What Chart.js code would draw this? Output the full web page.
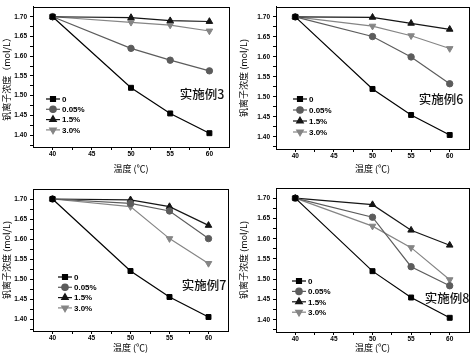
<!DOCTYPE html>
<html>
<head>
<meta charset="utf-8">
<script src="https://cdn.jsdelivr.net/npm/chart.js@4/dist/chart.umd.min.js"></script>
<style>
  body { margin: 0; background: #fff; }
  #wrap { position: relative; width: 474px; height: 358px; }
  canvas { position: absolute; }
</style>
</head>
<body>
<div id="wrap">
  <canvas id="c3" width="237" height="179" style="left:0;top:0"></canvas>
  <canvas id="c6" width="237" height="179" style="left:237px;top:0"></canvas>
  <canvas id="c7" width="237" height="179" style="left:0;top:179px"></canvas>
  <canvas id="c8" width="237" height="179" style="left:237px;top:179px"></canvas>
</div>
<script>
// 温度 (℃)
const temps = [40, 50, 55, 60];
const seriesNames = ['0', '0.05%', '1.5%', '3.0%'];

// 刻度
const xMajor = [40, 45, 50, 55, 60];
const xMinor = [42.5, 47.5, 52.5, 57.5];
const yMajor = [1.40, 1.45, 1.50, 1.55, 1.60, 1.65, 1.70];
const yMinor = [1.375, 1.425, 1.475, 1.525, 1.575, 1.625, 1.675];

// 实施例3
const e3_0   = [1.70, 1.520, 1.455, 1.405];
const e3_005 = [1.70, 1.620, 1.590, 1.563];
const e3_15  = [1.70, 1.698, 1.690, 1.688];
const e3_30  = [1.70, 1.686, 1.679, 1.664];

// 实施例6
const e6_0   = [1.70, 1.520, 1.455, 1.405];
const e6_005 = [1.70, 1.651, 1.600, 1.533];
const e6_15  = [1.70, 1.699, 1.684, 1.669];
const e6_30  = [1.70, 1.677, 1.653, 1.621];

// 实施例7
const e7_0   = [1.70, 1.520, 1.455, 1.405];
const e7_005 = [1.70, 1.689, 1.670, 1.601];
const e7_15  = [1.70, 1.698, 1.681, 1.634];
const e7_30  = [1.70, 1.681, 1.601, 1.539];

// 实施例8
const e8_0   = [1.70, 1.520, 1.455, 1.405];
const e8_005 = [1.70, 1.653, 1.531, 1.484];
const e8_15  = [1.70, 1.684, 1.621, 1.584];
const e8_30  = [1.70, 1.631, 1.578, 1.499];

const styles = [
  { color: '#000000', point: 'rect', rot: 0, r: 3.5 },
  { color: '#5c5c5c', point: 'circle', rot: 0, r: 3.2 },
  { color: '#151515', point: 'triangle', rot: 0, r: 3.8 },
  { color: '#858585', point: 'triangle', rot: 180, r: 3.8 }
];

const panels = [
  { id: 'c3', note: '实施例3', yTitle: '钒离子浓度（mol/L）', series: [e3_0, e3_005, e3_15, e3_30],
    area: { l: 33, r: 229, t: 3, b: 147 }, legend: { x: 53, y: 99, dy: 10.3 }, notePos: { x: 202, y: 94 } },
  { id: 'c6', note: '实施例6', yTitle: '钒离子浓度 (mol/L)', series: [e6_0, e6_005, e6_15, e6_30],
    area: { l: 39, r: 233, t: 3, b: 149 }, legend: { x: 63, y: 99, dy: 11 }, notePos: { x: 204, y: 99 } },
  { id: 'c7', note: '实施例7', yTitle: '钒离子浓度 (mol/L)', series: [e7_0, e7_005, e7_15, e7_30],
    area: { l: 33, r: 228, t: 10, b: 152 }, legend: { x: 65, y: 98, dy: 10.3 }, notePos: { x: 204, y: 106 } },
  { id: 'c8', note: '实施例8', yTitle: '钒离子浓度 (mol/L)', series: [e8_0, e8_005, e8_15, e8_30],
    area: { l: 39, r: 233, t: 9, b: 153 }, legend: { x: 62, y: 102, dy: 10.4 }, notePos: { x: 210, y: 119 } }
];

const tickFont = { family: 'Liberation Sans', size: 6.5, weight: 'bold' };
const cjk = 'Noto Sans CJK SC';

// 边框、图例和标注
const extras = {
  id: 'extras',
  afterDraw(chart, args, opts) {
    const ctx = chart.ctx;
    const a = chart.chartArea;
    ctx.save();
    ctx.strokeStyle = '#000';
    ctx.lineWidth = 1;
    ctx.strokeRect(Math.round(a.left) + 0.5, Math.round(a.top) + 0.5,
      Math.round(a.right - a.left), Math.round(a.bottom - a.top));

    const lg = opts.legend;
    chart.data.datasets.forEach((ds, i) => {
      const y = lg.y + i * lg.dy;
      ctx.strokeStyle = ds.borderColor;
      ctx.lineWidth = 1.2;
      ctx.beginPath();
      ctx.moveTo(lg.x - 7, y);
      ctx.lineTo(lg.x + 7, y);
      ctx.stroke();
      ctx.fillStyle = ds.backgroundColor;
      Chart.helpers.drawPoint(ctx, {
        pointStyle: ds.pointStyle, rotation: ds.pointRotation,
        radius: ds.pointRadius, borderWidth: 1
      }, lg.x, y);
      ctx.fillStyle = '#000';
      ctx.font = 'bold 8px "Liberation Sans"';
      ctx.textBaseline = 'middle';
      ctx.textAlign = 'left';
      ctx.fillText(ds.label, lg.x + 9, y + 0.5);
    });

    ctx.font = '500 12.5px "' + cjk + '"';
    ctx.fillStyle = '#111';
    ctx.textAlign = 'center';
    ctx.textBaseline = 'middle';
    ctx.fillText(opts.note, opts.notePos.x, opts.notePos.y);
    ctx.restore();
  }
};

panels.forEach(p => {
  const canvas = document.getElementById(p.id);
  const W = canvas.width, H = canvas.height;
  new Chart(canvas, {
    type: 'line',
    data: {
      datasets: p.series.map((vals, i) => ({
        label: seriesNames[i],
        data: temps.map((t, j) => ({ x: t, y: vals[j] })),
        borderColor: styles[i].color,
        backgroundColor: styles[i].color,
        pointStyle: styles[i].point,
        pointRotation: styles[i].rot,
        pointRadius: styles[i].r,
        pointBorderWidth: 1,
        borderWidth: 1.2,
        tension: 0
      }))
    },
    options: {
      responsive: false,
      animation: false,
      devicePixelRatio: 1,
      layout: { padding: { top: p.area.t, right: W - p.area.r, left: 0, bottom: 0 } },
      plugins: {
        legend: { display: false },
        tooltip: { enabled: false },
        extras: { legend: p.legend, note: p.note, notePos: p.notePos }
      },
      scales: {
        x: {
          type: 'linear', min: 37.5, max: 62.5,
          afterBuildTicks: s => { s.ticks = xMajor.concat(xMinor).sort((a, b) => a - b).map(v => ({ value: v })); },
          afterFit: s => { s.height = H - p.area.b; },
          ticks: {
            autoSkip: false, maxRotation: 0, padding: 0, color: '#000', font: tickFont,
            callback: v => xMajor.includes(v) ? String(v) : ''
          },
          grid: { drawOnChartArea: false, tickLength: 3, color: '#000' },
          border: { color: '#000', width: 1 },
          title: { display: true, text: '温度 (℃)', color: '#000', font: { family: cjk, size: 9 }, padding: { top: 0, bottom: 5 } }
        },
        y: {
          type: 'linear', min: 1.37, max: 1.725,
          afterBuildTicks: s => { s.ticks = yMajor.concat(yMinor).sort((a, b) => a - b).map(v => ({ value: v })); },
          afterFit: s => { s.width = p.area.l; },
          ticks: {
            autoSkip: false, padding: 3, color: '#000', font: tickFont,
            callback: v => yMajor.includes(v) ? v.toFixed(2) : ''
          },
          grid: { drawOnChartArea: false, tickLength: 3, color: '#000' },
          border: { color: '#000', width: 1 },
          title: { display: true, text: p.yTitle, color: '#000', font: { family: cjk, size: 9 }, padding: { top: 1, bottom: 0 } }
        }
      }
    },
    plugins: [extras]
  });
});
</script>
</body>
</html>
